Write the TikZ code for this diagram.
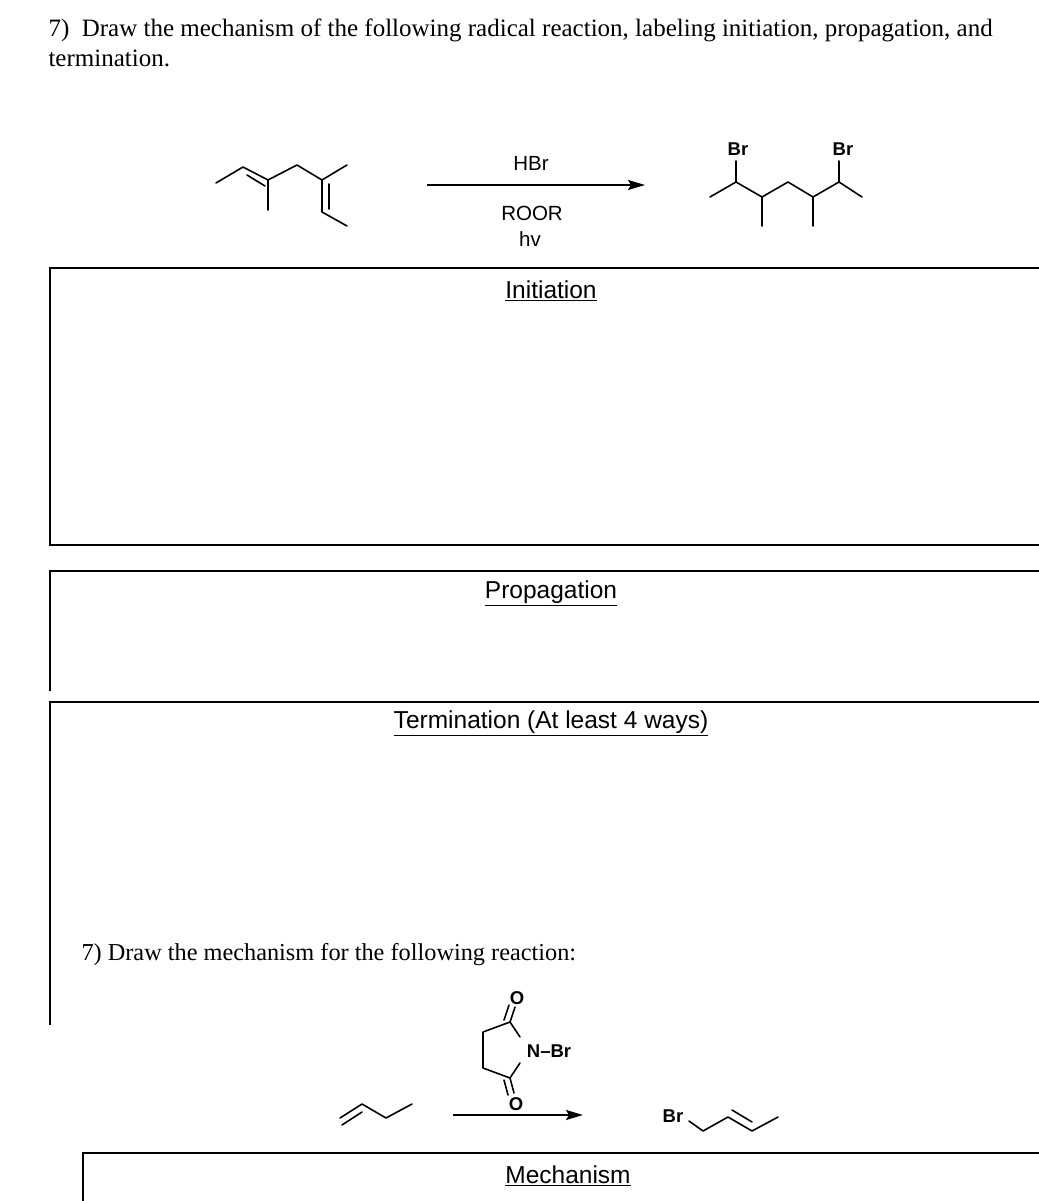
\documentclass[tikz,border=0pt]{standalone}
\usepackage{fontspec}
\usetikzlibrary{arrows.meta}
\setmainfont{Liberation Serif}
\setsansfont{Liberation Sans}
\begin{document}
\begin{tikzpicture}[x=1pt,y=-1pt,
  bond/.style={line width=1.6pt,line cap=round,line join=round},
  box/.style={line width=1.3pt},
  rarrow/.style={line width=1.8pt,-{Stealth[length=17pt,width=10pt,inset=3pt]}},
  q/.style={anchor=west,font=\fontsize{25}{30}\selectfont},
  lab/.style={font=\sffamily\fontsize{24.5}{28}\selectfont},
  atom/.style={font=\sffamily\bfseries\fontsize{18.5}{20}\selectfont,inner sep=1pt},
  reag/.style={font=\sffamily\fontsize{20.5}{23}\selectfont}]
\useasboundingbox (0,0) rectangle (1038,1201);
% question 1
\node[q,align=left] (q1) at (45,43) {7)\ \ Draw the mechanism of the following radical reaction, labeling initiation, propagation, and\\termination.};
% starting material
\draw[bond] (216,183)--(243,167)--(268,180)--(297,165)--(322,180)--(347,165);
\draw[bond] (247,175)--(265,186);
\draw[bond] (268,180)--(268,210);
\draw[bond] (322,180)--(322,212)--(347,226);
\draw[bond] (329,184)--(329,209);
% arrow
\coordinate (a1) at (427,185); \coordinate (a2) at (645,185);
\draw[rarrow] (a1)--(a2);
\node[reag] (hbr) at (531,163) {HBr};
\node[reag] (roor) at (532,213) {ROOR};
\node[reag] (hv) at (530,239) {hv};
% product
\draw[bond] (710,197)--(736,182)--(762,197)--(788,182)--(813,197)--(839,182)--(862,197);
\draw[bond] (736,182)--(736,161); \draw[bond] (839,182)--(839,161);
\draw[bond] (762,197)--(762,226); \draw[bond] (813,197)--(813,226);
\node[atom] (br1) at (738,149) {Br};
\node[atom] (br2) at (843,149) {Br};
% boxes
\draw[box] (1040,268)--(50,268)--(50,545)--(1040,545);
\draw[box] (1040,571)--(50,571)--(50,691);
\draw[box] (1040,702)--(50,702)--(50,1025);
\draw[box] (1040,1153)--(83,1153)--(83,1205);
\node[lab] (ini) at (551,291) {\underline{Initiation}};
\node[lab] (pro) at (551,593) {\underline{Propagation}};
\node[lab] (ter) at (551,723) {\underline{Termination (At least 4 ways)}};
\node[lab] (mec) at (568,1176) {\underline{Mechanism}};
% question 2
\node[q,font=\fontsize{24.3}{29}\selectfont] (q2) at (78,955) {7) Draw the mechanism for the following reaction:};
% butene
\draw[bond] (340,1118)--(362,1104)--(386,1118)--(412,1104);
\draw[bond] (342,1125)--(362,1112);
% NBS
\draw[bond] (520,1063)--(510,1078)--(483,1068)--(483,1032)--(510,1022)--(520,1037);
\draw[bond] (510,1022)--(515,1007); \draw[bond] (504,1020)--(509,1005);
\draw[bond] (510,1078)--(514,1093); \draw[bond] (504,1080)--(508,1095);
\node[atom] (o1) at (517,998) {O};
\node[atom] (o2) at (516,1104) {O};
\node[atom] (n) at (549,1051) {N\textbf{--}Br};
\coordinate (b1) at (453,1115); \coordinate (b2) at (583,1115);
\draw[rarrow] (b1)--(b2);
% product 2
\node[atom] (br3) at (673,1116) {Br};
\draw[bond] (689,1121)--(703,1131)--(728,1117)--(752,1131)--(778,1117);
\draw[bond] (732,1110)--(752,1122);
\end{tikzpicture}
\end{document}
